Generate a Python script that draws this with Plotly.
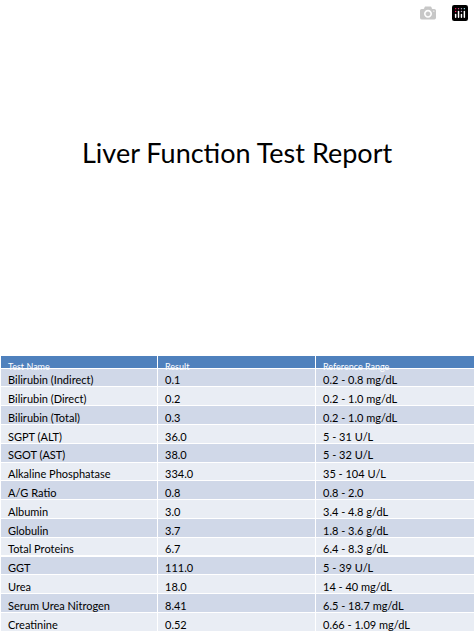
import plotly.graph_objects as go

tests = ["Bilirubin (Indirect)", "Bilirubin (Direct)", "Bilirubin (Total)", "SGPT (ALT)", "SGOT (AST)",
         "Alkaline Phosphatase", "A/G Ratio", "Albumin", "Globulin", "Total Proteins", "GGT", "Urea",
         "Serum Urea Nitrogen", "Creatinine"]
results = ["0.1", "0.2", "0.3", "36.0", "38.0", "334.0", "0.8", "3.0", "3.7", "6.7", "111.0", "18.0", "8.41", "0.52"]
ranges = ["0.2 - 0.8 mg/dL", "0.2 - 1.0 mg/dL", "0.2 - 1.0 mg/dL", "5 - 31 U/L", "5 - 32 U/L", "35 - 104 U/L",
          "0.8 - 2.0", "3.4 - 4.8 g/dL", "1.8 - 3.6 g/dL", "6.4 - 8.3 g/dL", "5 - 39 U/L", "14 - 40 mg/dL",
          "6.5 - 18.7 mg/dL", "0.66 - 1.09 mg/dL"]
headers = ["Test Name", "Result", "Reference Range"]

fills = ["#d0d8e8" if i % 2 == 0 else "#e9edf4" for i in range(len(tests))]

fig = go.Figure(go.Table(
    domain=dict(x=[0, 1], y=[0, (632 - 355) / 632]),
    columnwidth=[157, 158, 159],
    header=dict(values=headers, fill_color="#4f81bd", line=dict(color="white", width=1),
                font=dict(family="Lato", size=9, color="white"), align="left", height=13),
    cells=dict(values=[tests, results, ranges], fill_color=[fills] * 3, line=dict(color="white", width=1),
               font=dict(family="Lato", size=11, color="black"), align="left", height=18.8),
))
fig.update_layout(
    width=474, height=632, margin=dict(l=0, r=0, t=0, b=0), paper_bgcolor="white",
    annotations=[dict(text="Liver Function Test Report", x=0.5, y=1 - 134 / 632, xref="paper", yref="paper",
                      showarrow=False, font=dict(family="Lato", size=27, color="black"))],
)
fig.write_html("out.html", config={"responsive": False},
               post_script="document.body.style.margin='0';document.body.style.overflow='hidden';")
